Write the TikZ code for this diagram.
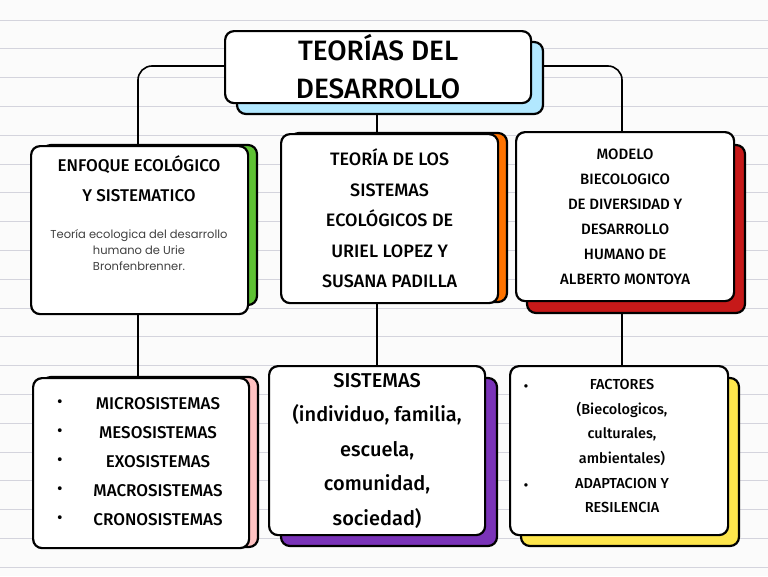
\documentclass[tikz,border=0pt]{standalone}
\usepackage{fontspec}
\setmainfont{Fira Sans}[BoldFont={Fira Sans Medium}]
\newfontfamily\smallf{Poppins}
\begin{document}
\begin{tikzpicture}[x=1pt,y=-1pt,
  card/.style={draw=black,line width=2.2pt,fill=white,rounded corners=9pt},
  shad/.style={draw=black,line width=2.2pt,rounded corners=9pt},
  conn/.style={draw=black,line width=1.6pt,rounded corners=14pt},
  txt/.style={align=center}]
\fill[white!97!gray] (0,0) rectangle (768,576);
\useasboundingbox (0,0) rectangle (768,576);
\foreach \y in {20,48.8,...,576} \draw[blue!12!gray!30,line width=0.9pt] (0,\y) -- (768,\y);
% connectors
\coordinate (lt) at (138,145); \coordinate (rt) at (622,131);
\draw[conn] (224,66) -- (138,66) -- (lt);
\draw[conn] (530,66) -- (622,66) -- (rt);
\draw[conn] (377,102) -- (377,133);
\draw[conn] (138,313) -- (138,377);
\draw[conn] (377,302) -- (377,365);
\draw[conn] (622,300) -- (622,365);
% shadows
\filldraw[shad,fill=blue!30!cyan!30] (237,42) rectangle (543,114);
\filldraw[shad,fill=green!60!lime!70!black!80] (42,145) rectangle (257,305);
\filldraw[shad,fill=orange!90!red] (290,133) rectangle (507,302);
\filldraw[shad,fill=red!75!black!90] (527,145) rectangle (745,313);
\filldraw[shad,fill=pink!80!red!60] (42,377) rectangle (258,547);
\filldraw[shad,fill=violet!70!blue!80] (281,378) rectangle (497,546);
\filldraw[shad,fill=yellow!80!orange!70] (521,378) rectangle (739,546);
% cards
\node[card,minimum width=306,minimum height=72,anchor=north west,txt,font=\bfseries\fontsize{28}{38}\selectfont] (title) at (224,30) {TEORÍAS DEL\\DESARROLLO};
\node[card,minimum width=217,minimum height=168,anchor=north west] (b1) at (30,145) {};
\node[txt,anchor=north,font=\bfseries\fontsize{17}{30}\selectfont] at (139,152) {ENFOQUE ECOLÓGICO\\Y SISTEMATICO};
\node[align=center,anchor=north,font=\smallf\fontsize{11.5}{16}\selectfont,text=black!75] at (139,226) {Teoría ecologica del desarrollo\\humano de Urie\\Bronfenbrenner.};
\node[card,minimum width=217,minimum height=169,anchor=north west,txt,font=\bfseries\fontsize{18}{30.5}\selectfont] (b2) at (280,133) {TEORÍA DE LOS\\SISTEMAS\\ECOLÓGICOS DE\\URIEL LOPEZ Y\\SUSANA PADILLA};
\node[card,minimum width=218,minimum height=169,anchor=north west,txt,font=\bfseries\fontsize{15}{25}\selectfont] (b3) at (515,131) {MODELO\\BIECOLOGICO\\DE DIVERSIDAD Y\\DESARROLLO\\HUMANO DE\\ALBERTO MONTOYA};
\node[card,minimum width=216,minimum height=170,anchor=north west] (b4) at (32,377) {};
\foreach \t [count=\i] in {MICROSISTEMAS,MESOSISTEMAS,EXOSISTEMAS,MACROSISTEMAS,CRONOSISTEMAS}
 { \node[font=\bfseries\fontsize{17}{18}\selectfont] at (158,375+29*\i) {\t};
   \node[font=\fontsize{17}{18}\selectfont] at (60,375+29*\i) {•}; }
\node[card,minimum width=216,minimum height=169,anchor=north west,txt,font=\bfseries\fontsize{20}{34.5}\selectfont] (b5) at (268,365) {SISTEMAS\\(individuo, familia,\\escuela,\\comunidad,\\sociedad)};
\node[card,minimum width=218,minimum height=169,anchor=north west] (b6) at (509,365) {};
\node[align=center,anchor=north,font=\bfseries\fontsize{14.5}{24.6}\selectfont] at (622,376) {FACTORES\\(Biecologicos,\\culturales,\\ambientales)\\ADAPTACION Y\\RESILENCIA};
\node[font=\fontsize{15}{16}\selectfont] at (526,388) {•};
\node[font=\fontsize{15}{16}\selectfont] at (526,487) {•};
\end{tikzpicture}
\end{document}
